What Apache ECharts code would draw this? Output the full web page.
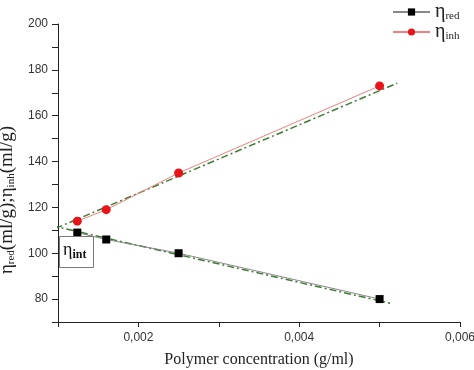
<!DOCTYPE html>
<html><head><meta charset="utf-8">
<script src="https://cdn.jsdelivr.net/npm/echarts@6/dist/echarts.min.js"></script>
<style>html,body{margin:0;padding:0;background:#fff}#c{width:474px;height:370px}</style>
</head><body><div id="c"></div>
<script>
// data
var concX = [0.00124, 0.0016, 0.0025, 0.005];
var etaRed = [109, 106, 100, 80];
var etaInh = [114, 119, 135, 173];
var fitRedX = [0.00074, 0.00513];
var fitRedY = [113.5, 78.2];
var fitInhX = [0.0008, 0.00522];
var fitInhY = [108.3, 174.2];
var yTicks = [80, 100, 120, 140, 160, 180, 200];
var xTicks = ['0,002', '0,004', '0,006'];

function pairs(xs, ys){ return xs.map(function(x,i){ return [x, ys[i]]; }); }

var chart = echarts.init(document.getElementById('c'));
var serif = 'Liberation Serif';
var sans = 'Liberation Sans';
var green = '#3f7a35';
chart.setOption({
  animation: false,
  backgroundColor: '#fff',
  grid: { left: 58, right: 14, top: 24, bottom: 48, containLabel: false, outerBoundsMode: 'none' },
  legend: {
    orient: 'vertical', left: 387, top: 0, itemWidth: 37, itemHeight: 9, itemGap: 0, padding: [2, 5, 5, 5],
    data: ['red', 'inh'],
    formatter: function(n){ return '{a|η}{b|' + n + '}'; },
    textStyle: {
      rich: {
        a: { fontFamily: serif, fontSize: 20, color: '#222', lineHeight: 16 },
        b: { fontFamily: serif, fontSize: 11, color: '#222', padding: [8, 0, 0, 0], lineHeight: 10 }
      }
    }
  },
  xAxis: {
    type: 'value', min: 0.001, max: 0.006, interval: 0.001,
    name: 'Polymer concentration (g/ml)', nameLocation: 'middle', nameGap: 30,
    nameTextStyle: { fontFamily: serif, fontSize: 16, color: '#222' },
    axisLine: { lineStyle: { color: '#222', width: 1 } },
    axisTick: { show: true, length: 5, lineStyle: { color: '#222' } },
    axisLabel: { fontFamily: sans, fontSize: 12, color: '#333', margin: 10,
      formatter: function(v){ var k = Math.round(v*1000); return (k % 2 === 0) ? xTicks[k/2 - 1] : ''; } },
    splitLine: { show: false }
  },
  yAxis: {
    type: 'value', min: 70, max: 200, interval: 10,
    name: '{a|η}{b|red}{a|(ml/g);η}{b|inh}{a|(ml/g)}', nameLocation: 'middle', nameGap: 34,
    nameTextStyle: {
      padding: [0, 54, 0, 0],
      rich: {
        a: { fontFamily: serif, fontSize: 19, color: '#222' },
        b: { fontFamily: serif, fontSize: 11, color: '#222', padding: [9, 0, 0, 0] }
      }
    },
    axisLine: { show: true, lineStyle: { color: '#222', width: 1 } },
    axisTick: { show: true, length: 6, lineStyle: { color: '#222' } },
    axisLabel: { fontFamily: sans, fontSize: 12, color: '#333', margin: 10,
      formatter: function(v){ return yTicks.indexOf(v) >= 0 ? String(v) : ''; } },
    splitLine: { show: false }
  },
  series: [
    { name: 'red', type: 'line', data: pairs(concX, etaRed), symbol: 'rect', symbolSize: 8,
      itemStyle: { color: '#000' }, lineStyle: { color: '#888', width: 1 }, z: 5 },
    { name: 'inh', type: 'line', data: pairs(concX, etaInh), symbol: 'circle', symbolSize: 9,
      itemStyle: { color: '#e8141a' }, lineStyle: { color: '#f08080', width: 1 }, z: 5 },
    { name: 'fitRed', type: 'line', data: pairs(fitRedX, fitRedY), symbol: 'none', clip: false,
      lineStyle: { color: green, width: 1.5, type: [7, 3, 2, 3] }, z: 3 },
    { name: 'fitInh', type: 'line', data: pairs(fitInhX, fitInhY), symbol: 'none', clip: false,
      lineStyle: { color: green, width: 1.5, type: [7, 3, 2, 3] }, z: 3 }
  ],
  graphic: [
    { type: 'rect', shape: { x: 59.5, y: 236.5, width: 34, height: 31 },
      style: { fill: '#fff', stroke: '#777', lineWidth: 1 }, z: 10 },
    { type: 'text', x: 63, y: 240, z: 11,
      style: { text: '{a|η}{b|int}',
        rich: {
          a: { fontFamily: serif, fontSize: 18, fill: '#111' },
          b: { fontFamily: serif, fontSize: 12, fontWeight: 'bold', fill: '#111', padding: [9, 0, 0, 0] }
        } } }
  ]
});
</script></body></html>
